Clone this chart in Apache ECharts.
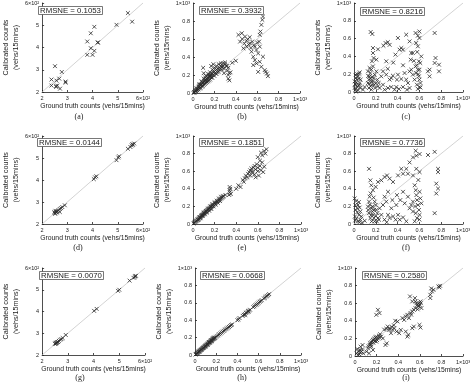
<!DOCTYPE html>
<html><head><meta charset="utf-8">
<script src="https://cdn.jsdelivr.net/npm/echarts@6/dist/echarts.min.js"></script>
<style>html,body{margin:0;padding:0;background:#fff}#c{width:474px;height:386px}</style>
</head><body><div id="c"></div><script>
// values in axis units: panels a,d,g in x10^2, others in x10^3
const dataA = [[5.4,5.55],[5.57,5.16],[4.95,5.02],[4.07,4.93],[3.93,4.64],[3.79,4.27],[4.2,4.22],[4.22,4.23],[3.93,3.97],[4.07,3.85],[3.79,3.67],[4.0,3.67],[2.51,3.16],[2.78,2.9],[2.37,2.56],[2.57,2.51],[2.68,2.6],[2.93,2.47],[2.93,2.42],[2.37,2.29],[2.56,2.23],[2.6,2.29],[2.71,2.15],[2.55,2.26]];
const dataB = [[0.425,0.646],[0.456,0.664],[0.486,0.627],[0.44,0.571],[0.511,0.597],[0.532,0.552],[0.553,0.571],[0.578,0.515],[0.502,0.515],[0.471,0.496],[0.593,0.478],[0.609,0.44],[0.547,0.459],[0.563,0.403],[0.578,0.366],[0.593,0.328],[0.624,0.347],[0.639,0.291],[0.563,0.31],[0.609,0.235],[0.67,0.254],[0.679,0.235],[0.70,0.187],[0.691,0.216],[0.654,0.403],[0.624,0.515],[0.618,0.571],[0.654,0.85],[0.648,0.813],[0.639,0.757],[0.63,0.683],[0.624,0.646],[0.4,0.358],[0.367,0.336],[0.52,0.54],[0.5,0.58],[0.54,0.5],[0.57,0.53],[0.6,0.56],[0.48,0.55],[0.46,0.6],[0.53,0.62],
[0.01,0.01],[0.02,0.02],[0.025,0.03],[0.03,0.035],[0.04,0.045],[0.045,0.05],[0.05,0.06],[0.055,0.07],[0.06,0.075],[0.07,0.085],[0.075,0.09],[0.08,0.1],[0.09,0.11],[0.1,0.12],[0.105,0.13],[0.11,0.14],[0.12,0.15],[0.13,0.16],[0.14,0.17],[0.15,0.18],[0.16,0.19],[0.17,0.2],[0.18,0.22],[0.19,0.23],[0.2,0.24],[0.21,0.25],[0.22,0.26],[0.23,0.27],[0.25,0.28],[0.26,0.3],[0.28,0.3],[0.3,0.32],[0.31,0.3],[0.33,0.28],[0.005,0.0],[0.015,0.005],[0.03,0.02],[0.05,0.04],[0.07,0.06],[0.09,0.08],[0.1,0.09],[0.12,0.11],[0.14,0.13],[0.16,0.15],[0.18,0.17],[0.2,0.19],[0.22,0.21],[0.24,0.24],[0.27,0.26],[0.29,0.27],[0.06,0.1],[0.08,0.13],[0.1,0.16],[0.12,0.19],[0.14,0.21],[0.16,0.23],[0.18,0.26],[0.2,0.28],[0.22,0.3],[0.24,0.32],[0.26,0.33],[0.095,0.28],[0.1,0.22],[0.17,0.3],[0.19,0.32],[0.33,0.2],[0.34,0.14],[0.33,0.16],[0.35,0.23],[0.32,0.25],[0.29,0.22],[0.03,0.05],[0.04,0.03],[0.065,0.05],[0.085,0.07],[0.11,0.1],[0.13,0.12],[0.15,0.14],[0.17,0.17],[0.06,0.09],[0.085,0.12],[0.115,0.17],[0.125,0.13],[0.135,0.15],[0.155,0.21],[0.145,0.19],[0.165,0.18],[0.185,0.2],[0.21,0.22],[0.23,0.23],[0.25,0.26],[0.27,0.29],[0.28,0.33],[0.3,0.34],[0.32,0.3],[0.34,0.22]];
const dataC = [[0.153,0.674],[0.168,0.652],[0.174,0.494],[0.174,0.438],[0.18,0.382],[0.205,0.363],[0.165,0.345],[0.29,0.55],[0.31,0.56],[0.327,0.53],[0.296,0.345],[0.403,0.607],[0.418,0.476],[0.434,0.494],[0.449,0.476],[0.479,0.644],[0.51,0.569],[0.525,0.438],[0.52,0.363],[0.565,0.663],[0.6,0.68],[0.586,0.633],[0.6,0.607],[0.57,0.55],[0.586,0.513],[0.54,0.438],[0.74,0.326],[0.748,0.382],[0.78,0.307],[0.693,0.251],[0.78,0.232],[0.74,0.663],
[0.25,0.176],[0.266,0.232],[0.296,0.195],[0.327,0.139],[0.342,0.157],[0.357,0.183],[0.394,0.139],[0.403,0.195],[0.434,0.146],[0.464,0.213],[0.479,0.139],[0.495,0.101],[0.51,0.232],[0.525,0.251],[0.54,0.195],[0.565,0.288],[0.586,0.251],[0.57,0.213],[0.595,0.176],[0.556,0.139],[0.577,0.082],[0.6,0.056],[0.586,0.034],[0.608,0.326],
[0.22,0.064],[0.235,0.045],[0.266,0.082],[0.281,0.026],[0.312,0.045],[0.342,0.056],[0.372,0.026],[0.388,0.056],[0.412,0.034],[0.449,0.056],[0.486,0.026],[0.51,0.045],
[0.006,0.045],[0.015,0.082],[0.021,0.109],[0.027,0.139],[0.037,0.176],[0.046,0.206],[0.052,0.221],[0.012,0.026],[0.03,0.056],[0.04,0.071],[0.052,0.101],[0.061,0.139],[0.018,0.157],[0.006,0.12],[0.037,0.019],[0.058,0.045],[0.082,0.026],[0.098,0.056],[0.021,0.004],[0.01,0.09],[0.045,0.15],[0.03,0.2],[0.015,0.19],[0.05,0.08],
[0.128,0.101],[0.137,0.139],[0.143,0.176],[0.15,0.213],[0.159,0.251],[0.153,0.064],[0.165,0.082],[0.174,0.12],[0.18,0.157],[0.19,0.195],[0.195,0.045],[0.159,0.026],[0.137,0.045],[0.168,0.168],[0.205,0.232],[0.214,0.139],[0.226,0.101],[0.174,0.288],[0.143,0.27],[0.128,0.232],[0.14,0.09],[0.16,0.12],[0.185,0.08],[0.2,0.1],[0.15,0.15],[0.13,0.18],
[0.6,0.139],[0.61,0.101],[0.595,0.345],[0.617,0.4],[0.678,0.232],[0.693,0.176],[0.58,0.45],[0.6,0.25],[0.59,0.2],[0.61,0.05],[0.575,0.3],[0.55,0.35],[0.38,0.42],[0.45,0.3],[0.31,0.26],[0.27,0.52],[0.22,0.48],[0.36,0.33]];
const dataD = [[2.5,2.5],[2.52,2.46],[2.55,2.55],[2.58,2.52],[2.6,2.58],[2.65,2.63],[2.7,2.68],[2.7,2.55],[2.75,2.72],[2.8,2.77],[2.9,2.85],[2.48,2.54],[2.53,2.6],[4.05,4.04],[4.1,4.12],[4.15,4.17],[4.95,4.9],[5.02,5.02],[5.05,5.08],[5.4,5.42],[5.5,5.5],[5.55,5.57],[5.6,5.6],[5.65,5.66],[5.58,5.63]];
const dataE = [[0.005,0.005],[0.01,0.01],[0.015,0.02],[0.02,0.025],[0.025,0.03],[0.03,0.035],[0.035,0.04],[0.04,0.048],[0.045,0.05],[0.05,0.058],[0.055,0.062],[0.06,0.07],[0.065,0.075],[0.07,0.08],[0.075,0.088],[0.08,0.092],[0.085,0.1],[0.09,0.105],[0.095,0.11],[0.1,0.118],[0.105,0.122],[0.11,0.13],[0.115,0.135],[0.12,0.14],[0.125,0.145],[0.13,0.152],[0.135,0.158],[0.14,0.163],[0.145,0.17],[0.15,0.175],[0.155,0.18],[0.16,0.185],[0.165,0.192],[0.17,0.198],[0.175,0.203],[0.18,0.21],[0.19,0.22],[0.2,0.23],[0.21,0.24],[0.22,0.25],[0.23,0.26],[0.24,0.27],[0.25,0.28],[0.26,0.29],[0.27,0.3],[0.28,0.31],[0.3,0.33],
[0.05,0.045],[0.07,0.065],[0.09,0.09],[0.11,0.11],[0.13,0.13],[0.15,0.15],[0.17,0.17],[0.19,0.2],[0.21,0.22],[0.23,0.24],[0.25,0.26],[0.06,0.08],[0.08,0.1],[0.1,0.13],[0.12,0.15],[0.14,0.175],[0.16,0.2],[0.18,0.225],[0.2,0.245],[0.22,0.265],[0.24,0.29],[0.26,0.31],[0.28,0.32],
[0.335,0.33],[0.34,0.36],[0.34,0.38],[0.345,0.4],[0.34,0.42],[0.35,0.34],
[0.4,0.4],[0.42,0.44],[0.44,0.42],[0.46,0.5],[0.47,0.48],[0.48,0.52],[0.49,0.55],[0.5,0.53],[0.51,0.57],[0.52,0.59],[0.53,0.55],[0.53,0.61],[0.54,0.63],[0.55,0.58],[0.55,0.6],[0.56,0.64],[0.57,0.66],[0.57,0.56],[0.58,0.62],[0.59,0.68],[0.6,0.6],[0.6,0.76],[0.61,0.55],[0.62,0.72],[0.63,0.81],[0.63,0.61],[0.64,0.78],[0.65,0.59],[0.66,0.65],[0.66,0.83],[0.67,0.8],[0.68,0.85],[0.62,0.66],[0.64,0.7],[0.58,0.53],[0.6,0.64]];
const dataF = [[0.566,0.832],[0.602,0.795],[0.679,0.784],[0.74,0.82],[0.541,0.757],[0.572,0.776],[0.51,0.7],[0.48,0.627],[0.434,0.627],[0.45,0.571],[0.404,0.552],[0.495,0.571],[0.572,0.627],[0.602,0.59],[0.541,0.552],[0.771,0.627],[0.771,0.59],[0.755,0.459],[0.771,0.403],[0.755,0.347],[0.74,0.123],
[0.138,0.627],[0.15,0.496],[0.159,0.44],[0.174,0.384],[0.199,0.422],[0.22,0.478],[0.251,0.496],[0.281,0.534],[0.303,0.552],[0.327,0.515],[0.358,0.478],[0.312,0.366],[0.281,0.31],[0.296,0.254],[0.266,0.216],
[0.006,0.291],[0.021,0.261],[0.037,0.216],[0.052,0.187],[0.015,0.16],[0.03,0.134],[0.046,0.104],[0.009,0.086],[0.021,0.06],[0.037,0.03],[0.058,0.049],[0.067,0.086],[0.012,0.216],[0.058,0.142],[0.076,0.011],[0.098,0.037],[0.03,0.18],[0.045,0.25],[0.01,0.04],[0.05,0.02],
[0.128,0.198],[0.138,0.254],[0.143,0.31],[0.153,0.347],[0.159,0.179],[0.168,0.142],[0.174,0.104],[0.183,0.067],[0.19,0.03],[0.199,0.216],[0.205,0.16],[0.214,0.123],[0.22,0.067],[0.229,0.049],[0.138,0.123],[0.15,0.067],[0.162,0.03],[0.19,0.254],[0.235,0.179],[0.251,0.104],[0.145,0.22],[0.17,0.2],[0.185,0.16],[0.2,0.09],[0.155,0.1],[0.13,0.16],[0.21,0.03],[0.18,0.3],
[0.312,0.104],[0.327,0.067],[0.358,0.086],[0.382,0.049],[0.404,0.104],[0.419,0.049],[0.45,0.075],[0.48,0.03],[0.388,0.216],[0.425,0.272],[0.465,0.235],[0.495,0.31],[0.51,0.179],[0.526,0.216],[0.352,0.272],[0.343,0.179],[0.394,0.328],[0.45,0.366],[0.28,0.05],[0.3,0.02],
[0.557,0.44],[0.566,0.384],[0.572,0.328],[0.578,0.272],[0.587,0.216],[0.596,0.16],[0.566,0.123],[0.578,0.067],[0.557,0.03],[0.602,0.366],[0.609,0.291],[0.618,0.235],[0.541,0.254],[0.541,0.142],[0.602,0.104],[0.59,0.5],[0.56,0.2],[0.6,0.05]];
const dataG = [[2.5,2.52],[2.52,2.5],[2.55,2.55],[2.58,2.58],[2.6,2.6],[2.62,2.6],[2.65,2.65],[2.7,2.7],[2.75,2.73],[2.8,2.78],[2.92,2.92],[2.55,2.57],[2.53,2.54],[4.02,4.03],[4.12,4.12],[4.95,4.95],[5.0,5.0],[5.4,5.42],[5.55,5.55],[5.6,5.58],[5.62,5.62],[5.65,5.64]];
const dataH = [[0.005,0.005],[0.01,0.012],[0.015,0.014],[0.02,0.022],[0.025,0.027],[0.03,0.031],[0.035,0.038],[0.04,0.042],[0.045,0.049],[0.05,0.053],[0.055,0.058],[0.06,0.064],[0.065,0.069],[0.07,0.075],[0.075,0.079],[0.08,0.086],[0.085,0.09],[0.09,0.097],[0.095,0.1],[0.1,0.108],[0.105,0.112],[0.11,0.118],[0.115,0.122],[0.12,0.13],[0.125,0.133],[0.13,0.14],[0.135,0.144],[0.14,0.15],[0.145,0.156],[0.15,0.16],[0.155,0.168],[0.16,0.172],[0.165,0.178],[0.17,0.182],[0.175,0.188],[0.18,0.19],[0.185,0.197],[0.19,0.2],[0.2,0.21],[0.21,0.22],[0.22,0.23],[0.23,0.238],[0.24,0.248],[0.25,0.258],[0.26,0.268],[0.27,0.278],[0.28,0.287],[0.29,0.296],[0.3,0.305],[0.31,0.315],[0.32,0.323],[0.33,0.333],[0.34,0.343],[0.35,0.35],[0.1,0.098],[0.12,0.118],[0.14,0.142],[0.16,0.158],[0.08,0.08],[0.06,0.06],[0.04,0.038],[0.17,0.19],[0.18,0.2],[0.15,0.17],[0.13,0.15],
[0.4,0.4],[0.41,0.41],[0.42,0.425],[0.45,0.45],[0.46,0.462],[0.47,0.47],[0.48,0.485],[0.49,0.49],[0.5,0.505],[0.51,0.51],[0.52,0.52],[0.55,0.55],[0.56,0.56],[0.57,0.572],[0.58,0.58],[0.59,0.59],[0.6,0.6],[0.61,0.612],[0.62,0.62],[0.63,0.63],[0.65,0.65],[0.66,0.66],[0.67,0.672],[0.68,0.68],[0.69,0.69],[0.7,0.7],[0.475,0.46],[0.505,0.495]];
const dataI = [[0.015,0.03],[0.03,0.05],[0.045,0.068],[0.06,0.05],[0.04,0.019],[0.076,0.03],[0.052,0.106],[0.07,0.125],[0.021,0.08],[0.03,0.01],[0.05,0.04],[0.065,0.075],
[0.106,0.05],[0.121,0.087],[0.136,0.125],[0.152,0.156],[0.167,0.182],[0.182,0.2],[0.197,0.22],[0.152,0.106],[0.167,0.068],[0.13,0.03],[0.197,0.163],[0.212,0.2],[0.221,0.232],[0.233,0.247],[0.242,0.22],[0.258,0.2],[0.282,0.125],[0.294,0.144],[0.14,0.15],[0.16,0.17],[0.175,0.19],[0.19,0.21],[0.125,0.11],[0.145,0.13],[0.17,0.15],[0.185,0.17],[0.205,0.18],[0.225,0.21],
[0.212,0.525],[0.227,0.487],[0.197,0.468],[0.303,0.335],[0.318,0.297],
[0.318,0.316],[0.348,0.297],[0.364,0.316],[0.385,0.278],[0.409,0.259],[0.424,0.297],[0.373,0.4],[0.394,0.392],[0.333,0.259],[0.47,0.278],[0.485,0.22],[0.494,0.24],[0.27,0.3],[0.29,0.31],[0.34,0.33],[0.36,0.35],
[0.47,0.449],[0.485,0.468],[0.515,0.487],[0.53,0.506],[0.5,0.43],[0.455,0.41],[0.545,0.525],[0.509,0.677],[0.53,0.62],[0.545,0.335],[0.53,0.316],[0.44,0.43],[0.52,0.47],
[0.56,0.544],[0.576,0.582],[0.591,0.6],[0.606,0.62],[0.585,0.563],[0.56,0.62],[0.555,0.658],[0.615,0.544],[0.597,0.354],[0.606,0.323],[0.57,0.6],[0.59,0.57],[0.6,0.58],[0.58,0.53],[0.61,0.6],
[0.697,0.696],[0.712,0.734],[0.727,0.753],[0.773,0.791],[0.788,0.798],[0.697,0.658],[0.706,0.768],[0.78,0.78]];

const rmsneValues = ['0.1053','0.3932','0.8216','0.0144','0.1851','0.7736','0.0070','0.0668','0.2580'];
const subLabels = ['(a)','(b)','(c)','(d)','(e)','(f)','(g)','(h)','(i)'];
const smallRange = [2, 6];   // x10^2
const largeRange = [0, 1];   // x10^3
const xTitle = 'Ground truth counts (vehs/15mins)';
const yTitle = 'Calibrated counts\n(vehs/15mins)';

const allData = [dataA, dataB, dataC, dataD, dataE, dataF, dataG, dataH, dataI];
const small = [true,false,false,true,false,false,true,false,false];

const gridPos = [
  {left:33, top:3, width:110, height:89},
  {left:193, top:3, width:107, height:90},
  {left:354, top:3, width:109, height:89},
  {left:33, top:136, width:110, height:88},
  {left:193, top:136, width:108, height:88},
  {left:354, top:136, width:109, height:88},
  {left:35, top:268, width:110, height:87},
  {left:195, top:268, width:106, height:87},
  {left:355, top:268, width:108, height:88}
];
const boxPos = [[38,6],[199,6],[360,7],[37,138],[199,138],[360,138],[39,271],[200,271],[362,271]];
const labelPos = [[79,117],[242,117],[406,117],[78,248],[242,248],[406,248],[80,378],[242,378],[406,378]];

const FONT = '"Liberation Sans", Arial, sans-serif';
const grid = [], xAxis = [], yAxis = [], series = [], title = [], graphic = [];
allData.forEach((d, i) => {
  const r = small[i] ? smallRange : largeRange;
  const step = small[i] ? 1 : 0.2;
  const expo = small[i] ? '6×10²' : '1×10³';
  const fmt = v => (Math.abs(v - r[1]) < 1e-9 ? expo : String(Math.round(v * 10) / 10));
  grid.push(Object.assign({containLabel:false}, gridPos[i]));
  const common = {
    gridIndex: i, type: 'value', min: r[0], max: r[1], interval: step,
    splitLine: {show:false},
    axisLine: {lineStyle:{color:'#222', width:0.8}},
    axisTick: {inside:true, length:2, lineStyle:{color:'#222', width:0.8}},
    axisLabel: {formatter: fmt, fontSize:5.5, color:'#222', fontFamily:FONT, margin:3},
    nameLocation: 'middle',
    nameTextStyle: {fontSize:6.8, color:'#222', fontFamily:FONT}
  };
  xAxis.push(Object.assign({}, common, {name: xTitle, nameGap: 11}));
  yAxis.push(Object.assign({}, common, {name: yTitle, nameGap: 12, nameRotate: 90,
    nameTextStyle: {fontSize:7.2, color:'#222', fontFamily:FONT, lineHeight:10}}));
  series.push({type:'line', xAxisIndex:i, yAxisIndex:i, data:[[r[0],r[0]],[r[1],r[1]]],
    symbol:'none', silent:true, z:1, lineStyle:{color:'#c8c8c8', width:0.8}});
  series.push({type:'scatter', xAxisIndex:i, yAxisIndex:i, data:d, z:3,
    symbol:'path://M0,0L10,10M10,0L0,10', symbolSize:3.8,
    itemStyle:{color:'rgba(0,0,0,0)', borderColor:'#2a2a2a', borderWidth:1}});
  title.push({text:'RMSNE = ' + rmsneValues[i], left:boxPos[i][0], top:boxPos[i][1],
    padding:[1,2,0,2], borderColor:'#555', borderWidth:0.8, backgroundColor:'#fff',
    textStyle:{fontSize:7.8, fontWeight:'normal', color:'#222', fontFamily:FONT}});
  graphic.push({type:'text', x:labelPos[i][0], y:labelPos[i][1],
    style:{text:subLabels[i], align:'center', verticalAlign:'middle',
      font:'8px "Liberation Serif", "Times New Roman", serif', fill:'#222'}});
});

const chart = echarts.init(document.getElementById('c'), null, {renderer:'canvas'});
chart.setOption({animation:false, backgroundColor:'#fff', grid, xAxis, yAxis, series, title, graphic});
</script></body></html>
